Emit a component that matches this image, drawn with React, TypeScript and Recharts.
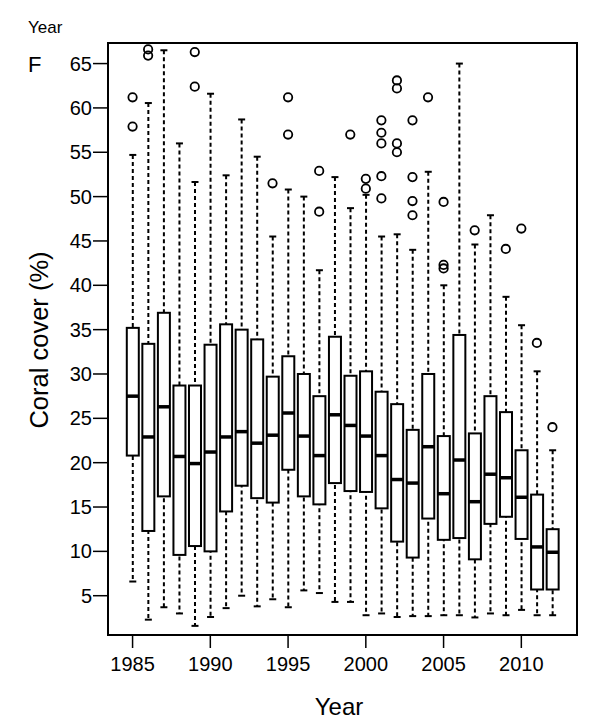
import React from "react";
import {
  Bar,
  ComposedChart,
  ReferenceArea,
  Scatter,
  XAxis,
  YAxis,
} from "recharts";

// Coral cover per year (values in %).
const YEARS = [
  1985, 1986, 1987, 1988, 1989, 1990, 1991, 1992, 1993, 1994, 1995, 1996, 1997, 1998,
  1999, 2000, 2001, 2002, 2003, 2004, 2005, 2006, 2007, 2008, 2009, 2010, 2011, 2012,
];
const WHISKER_LOW = [
  6.6, 2.3, 3.7, 3.0, 1.6, 2.6, 3.6, 5.0, 3.8, 4.6, 3.7, 5.6, 5.3, 4.3,
  4.3, 2.8, 3.0, 2.6, 2.7, 2.7, 2.8, 2.8, 2.55, 3.0, 2.8, 3.4, 2.8, 2.8,
];
const Q1 = [
  20.8, 12.3, 16.2, 9.6, 10.6, 10.0, 14.5, 17.4, 16.0, 15.5, 19.2, 16.2, 15.3, 17.7,
  16.8, 16.7, 14.85, 11.1, 9.3, 13.7, 11.3, 11.5, 9.1, 13.1, 13.9, 11.4, 5.7, 5.7,
];
const MEDIAN = [
  27.5, 22.9, 26.3, 20.7, 19.9, 21.2, 22.9, 23.5, 22.2, 23.1, 25.6, 23.0, 20.8, 25.4,
  24.2, 23.0, 20.8, 18.1, 17.7, 21.8, 16.5, 20.3, 15.6, 18.7, 18.3, 16.1, 10.5, 9.9,
];
const Q3 = [
  35.2, 33.4, 36.9, 28.7, 28.7, 33.3, 35.6, 35.0, 33.9, 29.7, 32.0, 30.0, 27.5, 34.2,
  29.8, 30.3, 28.0, 26.6, 23.7, 30.0, 23.0, 34.4, 23.3, 27.5, 25.7, 21.4, 16.4, 12.5,
];
const WHISKER_HIGH = [
  54.7, 60.55, 66.5, 56.0, 51.65, 61.6, 52.4, 58.7, 54.5, 45.5, 50.8, 50.0, 41.7, 52.2,
  48.7, 50.2, 45.5, 45.75, 44.0, 52.8, 40.0, 65.0, 44.6, 47.9, 38.7, 35.5, 30.3, 21.4,
];
const OUTLIERS: number[][] = [
  [57.9, 61.2], [65.9, 66.6], [], [], [62.4, 66.3], [], [], [], [], [51.5],
  [57.0, 61.2], [], [48.3, 52.9], [], [57.0], [50.9, 52.0],
  [49.8, 52.3, 56.0, 57.2, 58.6], [55.0, 56.0, 62.2, 63.1], [47.9, 49.5, 52.2, 58.6],
  [61.2], [41.9, 42.3, 49.4], [], [46.2], [], [44.1], [46.4], [33.5], [24.0],
];

const X_TICKS = [1985, 1990, 1995, 2000, 2005, 2010];
const Y_TICKS = [5, 10, 15, 20, 25, 30, 35, 40, 45, 50, 55, 60, 65];
const X_DOMAIN: [number, number] = [1983.42, 2013.58];
const Y_DOMAIN: [number, number] = [0.57, 67.32];

const FONT = "'Liberation Sans', Arial, Helvetica, sans-serif";
const BOX_W = 12;

const boxData = YEARS.map((year, i) => ({
  year,
  whisker: [WHISKER_LOW[i], WHISKER_HIGH[i]],
  box: [Q1[i], Q3[i]],
  median: MEDIAN[i],
}));

const outlierData = YEARS.flatMap((year, i) => OUTLIERS[i].map((value) => ({ year, value })));

// dashed whisker with small caps at both ends
function WhiskerShape(props: any) {
  const { x, y, width, height } = props;
  if (x == null || y == null) return null;
  const cx = x + width / 2;
  const top = Math.min(y, y + height);
  const bottom = Math.max(y, y + height);
  const cap = 3.5;
  return (
    <g>
      <line x1={cx} x2={cx} y1={top} y2={bottom} stroke="#000" strokeWidth={2} strokeDasharray="4 3" />
      <line x1={cx - cap} x2={cx + cap} y1={top} y2={top} stroke="#000" strokeWidth={2} />
      <line x1={cx - cap} x2={cx + cap} y1={bottom} y2={bottom} stroke="#000" strokeWidth={2} />
    </g>
  );
}

function BoxShape(props: any) {
  const { x, y, width, height } = props;
  if (x == null || y == null) return null;
  const top = Math.min(y, y + height);
  return (
    <rect x={x} y={top} width={width} height={Math.abs(height)} fill="#fff" stroke="#000" strokeWidth={2} />
  );
}

function MedianShape(props: any) {
  const { cx, cy } = props;
  if (cx == null || cy == null) return null;
  return <line x1={cx - BOX_W / 2} x2={cx + BOX_W / 2} y1={cy} y2={cy} stroke="#000" strokeWidth={3.5} />;
}

function OutlierShape(props: any) {
  const { cx, cy } = props;
  if (cx == null || cy == null) return null;
  return <circle cx={cx} cy={cy} r={4.2} fill="none" stroke="#000" strokeWidth={1.8} />;
}

const tickStyle = { fill: "#000", fontSize: 20, fontFamily: FONT };

export default function App() {
  return (
    <div style={{ position: "absolute", left: 0, top: 0, width: 591, height: 720, background: "#fff" }}>
      <ComposedChart
        width={591}
        height={720}
        data={boxData}
        margin={{ top: 43, right: 14, bottom: 0, left: 0 }}
      >
        <XAxis
          xAxisId="main"
          type="number"
          dataKey="year"
          domain={X_DOMAIN}
          allowDataOverflow
          ticks={X_TICKS}
          interval={0}
          height={85}
          tickSize={13}
          tickMargin={9}
          axisLine={false}
          tickLine={{ stroke: "#000", strokeWidth: 1.5 }}
          tick={tickStyle}
        />
        <XAxis xAxisId="w" orientation="top" height={0} type="number" dataKey="year" domain={X_DOMAIN} allowDataOverflow hide />
        <XAxis xAxisId="b" orientation="top" height={0} type="number" dataKey="year" domain={X_DOMAIN} allowDataOverflow hide />
        <YAxis
          type="number"
          domain={Y_DOMAIN}
          allowDataOverflow
          ticks={Y_TICKS}
          interval={0}
          width={108}
          tickSize={15}
          tickMargin={1}
          axisLine={false}
          tickLine={{ stroke: "#000", strokeWidth: 1.5 }}
          tick={tickStyle}
        />
        <Bar xAxisId="w" dataKey="whisker" barSize={BOX_W} shape={WhiskerShape} isAnimationActive={false} />
        <Bar xAxisId="b" dataKey="box" barSize={BOX_W} shape={BoxShape} isAnimationActive={false} />
        <Scatter xAxisId="main" data={boxData} dataKey="median" shape={MedianShape} isAnimationActive={false} />
        <Scatter xAxisId="main" data={outlierData} dataKey="value" shape={OutlierShape} isAnimationActive={false} />
        <ReferenceArea
          xAxisId="main"
          x1={X_DOMAIN[0]}
          x2={X_DOMAIN[1]}
          y1={Y_DOMAIN[0]}
          y2={Y_DOMAIN[1]}
          fill="none"
          stroke="#000"
          strokeWidth={2}
          ifOverflow="visible"
        />
        <text x={28} y={33} fontSize={17} fontFamily={FONT} fill="#000">Year</text>
        <text x={28} y={72} fontSize={22} fontFamily={FONT} fill="#000">F</text>
        <text
          x={48}
          y={340}
          fontSize={25.5}
          fontFamily={FONT}
          fill="#000"
          textAnchor="middle"
          transform="rotate(-90 48 340)"
        >
          Coral cover (%)
        </text>
        <text x={339} y={715} fontSize={24} fontFamily={FONT} fill="#000" textAnchor="middle">Year</text>
      </ComposedChart>
    </div>
  );
}
